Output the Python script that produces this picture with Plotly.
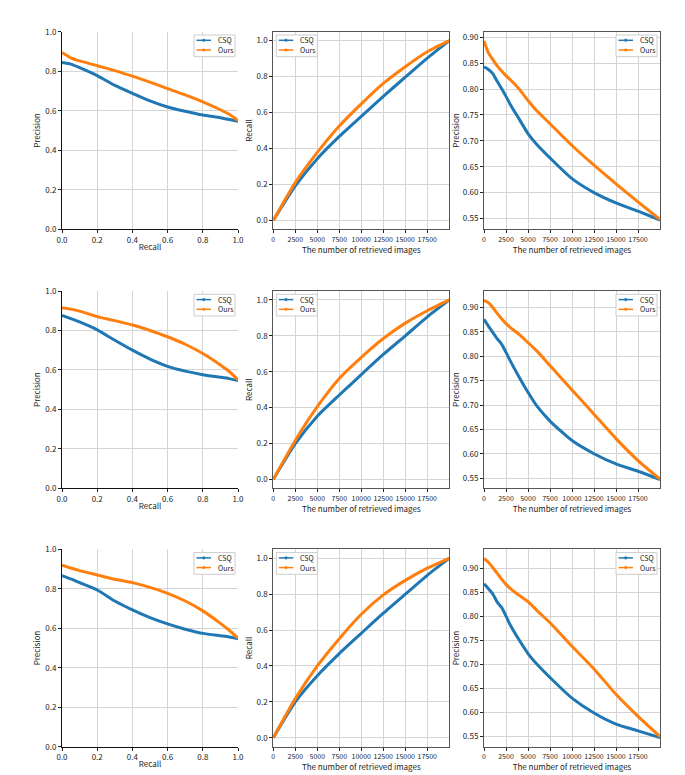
import plotly.graph_objects as go
from plotly.subplots import make_subplots

# recall axis samples for the precision-recall curves
recall_pts = [0, 0.05, 0.1, 0.2, 0.3, 0.4, 0.5, 0.6, 0.7, 0.8, 0.9, 0.95, 1.0]
# number of retrieved images, samples for recall curves and precision curves
k_rec = [0, 2500, 5000, 7500, 10000, 12500, 15000, 17500, 20000]
k_prec = [0, 500, 1000, 1500, 2000, 2500, 3000, 4000, 5000, 6000, 7500,
          10000, 12500, 15000, 17500, 20000]
k_ticks = [0, 2500, 5000, 7500, 10000, 12500, 15000, 17500]
methods = ["CSQ", "Ours"]

# row 1
pr_csq_1 = [0.844, 0.836, 0.818, 0.778, 0.728, 0.688, 0.650, 0.619, 0.597, 0.578, 0.565, 0.556, 0.546]
pr_ours_1 = [0.895, 0.868, 0.852, 0.828, 0.803, 0.775, 0.745, 0.712, 0.680, 0.645, 0.605, 0.582, 0.550]
rec_csq_1 = [0, 0.192, 0.343, 0.467, 0.579, 0.690, 0.797, 0.903, 1.0]
rec_ours_1 = [0, 0.210, 0.378, 0.525, 0.648, 0.762, 0.855, 0.938, 1.0]
prec_csq_1 = [0.843, 0.838, 0.830, 0.815, 0.801, 0.786, 0.770, 0.742, 0.714, 0.693, 0.667,
              0.627, 0.600, 0.580, 0.564, 0.547]
prec_ours_1 = [0.893, 0.870, 0.857, 0.845, 0.835, 0.826, 0.818, 0.800, 0.778, 0.758, 0.733,
               0.691, 0.653, 0.617, 0.582, 0.548]

# row 2
pr_csq_2 = [0.876, 0.860, 0.843, 0.803, 0.750, 0.700, 0.655, 0.618, 0.594, 0.576, 0.563, 0.556, 0.546]
pr_ours_2 = [0.915, 0.908, 0.898, 0.870, 0.850, 0.828, 0.800, 0.768, 0.730, 0.683, 0.625, 0.592, 0.550]
rec_csq_2 = [0, 0.199, 0.352, 0.470, 0.584, 0.696, 0.800, 0.906, 1.0]
rec_ours_2 = [0, 0.217, 0.405, 0.562, 0.680, 0.785, 0.871, 0.940, 1.0]
prec_csq_2 = [0.876, 0.862, 0.849, 0.836, 0.825, 0.808, 0.790, 0.757, 0.726, 0.698, 0.667,
              0.627, 0.600, 0.579, 0.564, 0.547]
prec_ours_2 = [0.915, 0.910, 0.900, 0.888, 0.877, 0.867, 0.859, 0.845, 0.828, 0.811, 0.781,
               0.731, 0.681, 0.631, 0.586, 0.548]

# row 3
pr_csq_3 = [0.867, 0.850, 0.831, 0.794, 0.738, 0.693, 0.654, 0.622, 0.595, 0.574, 0.562, 0.556, 0.547]
pr_ours_3 = [0.920, 0.905, 0.892, 0.870, 0.848, 0.831, 0.807, 0.777, 0.738, 0.688, 0.625, 0.590, 0.550]
rec_csq_3 = [0, 0.200, 0.346, 0.469, 0.582, 0.694, 0.800, 0.905, 1.0]
rec_ours_3 = [0, 0.218, 0.400, 0.552, 0.688, 0.796, 0.877, 0.945, 1.0]
prec_csq_3 = [0.867, 0.857, 0.846, 0.829, 0.818, 0.800, 0.781, 0.750, 0.722, 0.700, 0.672,
              0.629, 0.598, 0.575, 0.561, 0.547]
prec_ours_3 = [0.920, 0.912, 0.901, 0.889, 0.877, 0.866, 0.857, 0.843, 0.830, 0.812, 0.786,
               0.737, 0.690, 0.637, 0.591, 0.549]

BLUE = "#1f77b4"
ORANGE = "#ff7f0e"
COLORS = [BLUE, ORANGE]
FONT = "Noto Sans CJK SC"
TXT = "#222222"
W, H = 685, 775
OFF = 8  # page body margin

# plot area positions in pixels (page coordinates)
col_px = [(62, 238), (273.3, 449.3), (484, 660)]
row_px = [(31.7, 229.3), (291, 488.3), (549.3, 746.7)]
prec_ranges = [[0.529, 0.911], [0.529, 0.934], [0.528, 0.939]]

rows = [
    (pr_csq_1, pr_ours_1, rec_csq_1, rec_ours_1, prec_csq_1, prec_ours_1),
    (pr_csq_2, pr_ours_2, rec_csq_2, rec_ours_2, prec_csq_2, prec_ours_2),
    (pr_csq_3, pr_ours_3, rec_csq_3, rec_ours_3, prec_csq_3, prec_ours_3),
]


def add_legend(fig, n, pw, ph, left):
    # small matplotlib-like legend box drawn in axis-domain coordinates
    xr = "x domain" if n == 1 else "x%d domain" % n
    yr = "y domain" if n == 1 else "y%d domain" % n
    bw, bh = 41, 21.7
    bx0 = 3 if left else pw - 3 - bw
    by0 = 3.3
    fx = lambda p: p / pw
    fy = lambda p: 1 - p / ph
    fig.add_shape(type="rect", xref=xr, yref=yr, x0=fx(bx0), x1=fx(bx0 + bw),
                  y0=fy(by0), y1=fy(by0 + bh), line=dict(color="#cccccc", width=1),
                  fillcolor="white", layer="above")
    for i, (name, color) in enumerate(zip(methods, COLORS)):
        yc = fy(by0 + 5.3 + 9.7 * i)
        fig.add_shape(type="line", xref=xr, yref=yr, x0=fx(bx0 + 2.5), x1=fx(bx0 + 17),
                      y0=yc, y1=yc, line=dict(color=color, width=1.5), layer="above")
        fig.add_shape(type="circle", xref=xr, yref=yr, xsizemode="pixel", ysizemode="pixel",
                      xanchor=fx(bx0 + 9.75), yanchor=yc, x0=-1.3, x1=1.3, y0=-1.3, y1=1.3,
                      line=dict(color=color, width=0.5), fillcolor=color, layer="above")
        fig.add_annotation(xref=xr, yref=yr, x=fx(bx0 + 22), y=yc, text=name,
                           showarrow=False, xanchor="left", yanchor="middle",
                           font=dict(family=FONT, size=7, color=TXT))


fig = make_subplots(rows=3, cols=3)

layout = {}
for r, (prc, pro, rcc, rco, ppc, ppo) in enumerate(rows):
    panels = [
        (recall_pts, prc, pro),
        (k_rec, rcc, rco),
        (k_prec, ppc, ppo),
    ]
    for c, (xs, y_csq, y_ours) in enumerate(panels):
        n = r * 3 + c + 1
        for name, ys, color in zip(methods, [y_csq, y_ours], COLORS):
            fig.add_trace(go.Scatter(x=xs, y=ys, name=name, mode="lines",
                                     line=dict(color=color, width=3, shape="spline", smoothing=0.6),
                                     showlegend=False),
                          row=r + 1, col=c + 1)

        x0, x1 = col_px[c]
        y0, y1 = row_px[r]
        x0, x1, y0, y1 = x0 - OFF, x1 - OFF, y0 - OFF, y1 - OFF
        xd = [x0 / W, x1 / W]
        yd = [1 - y1 / H, 1 - y0 / H]

        tfont = dict(family=FONT, size=8, color=TXT)
        kfont = dict(family=FONT, size=7, color=TXT)
        common = dict(showgrid=True, gridcolor="#d4d4d4", gridwidth=1, zeroline=False,
                      ticks="outside", ticklen=3, tickcolor=TXT, showline=True,
                      tickfont=tfont, automargin=False, tickangle=0)
        if c == 0:
            xa = dict(common, domain=xd, range=[0, 1], dtick=0.2, tickformat=".1f",
                      linecolor="#111", mirror=False,
                      title=dict(text="Recall", font=tfont, standoff=0))
            ya = dict(common, domain=yd, range=[0, 1], dtick=0.2, tickformat=".1f",
                      linecolor="#111", mirror=False,
                      title=dict(text="Precision", font=tfont, standoff=3))
        elif c == 1:
            xa = dict(common, domain=xd, range=[0, 20000], tickvals=k_ticks, tickformat="d",
                      linecolor="#555", mirror=True, tickfont=kfont,
                      title=dict(text="The number of retrieved images", font=tfont, standoff=0))
            ya = dict(common, domain=yd, range=[-0.05, 1.05], dtick=0.2, tickformat=".1f",
                      linecolor="#555", mirror=True,
                      title=dict(text="Recall", font=tfont, standoff=2))
        else:
            xa = dict(common, domain=xd, range=[0, 20000], tickvals=k_ticks, tickformat="d",
                      linecolor="#555", mirror=True, tickfont=kfont,
                      title=dict(text="The number of retrieved images", font=tfont, standoff=0))
            ya = dict(common, domain=yd, range=prec_ranges[r], dtick=0.05, tickformat=".2f",
                      linecolor="#555", mirror=True,
                      title=dict(text="Precision", font=tfont, standoff=2))

        suffix = "" if n == 1 else str(n)
        layout["xaxis" + suffix] = xa
        layout["yaxis" + suffix] = ya

        add_legend(fig, n, x1 - x0, y1 - y0, left=(c == 1))

fig.update_layout(**layout)
fig.update_layout(width=W, height=H, margin=dict(l=0, r=0, t=0, b=0),
                  template="none", plot_bgcolor="white", paper_bgcolor="white",
                  showlegend=False)
fig.write_html("out.html")
